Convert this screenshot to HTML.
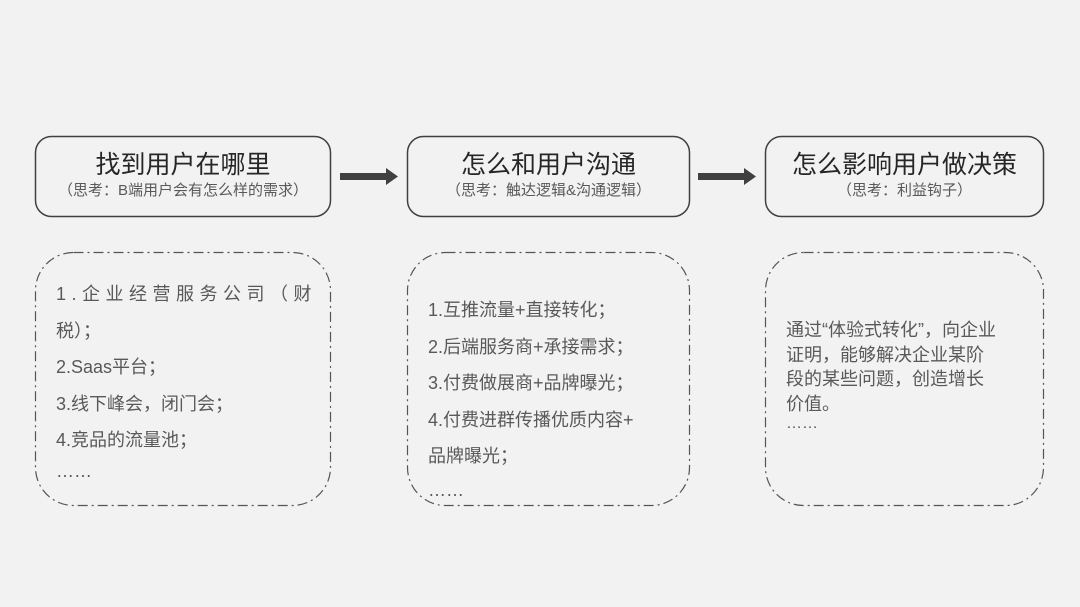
<!DOCTYPE html>
<html><head><meta charset="utf-8"><style>
body{margin:0;width:1080px;height:607px;background:#f2f2f2;overflow:hidden;position:relative;font-family:"Liberation Sans","Noto Sans CJK SC",sans-serif}
.t{position:absolute;text-align:center;color:#262626;font-size:25px;line-height:30px;white-space:nowrap}
.s{position:absolute;text-align:center;color:#595959;font-size:15px;line-height:18px;white-space:nowrap}
.l{position:absolute;color:#595959;font-size:18px;white-space:nowrap}
</style></head><body>
<svg width="1080" height="607" style="position:absolute;left:0;top:0">
<g fill="none" stroke="#404040" stroke-width="1.5">
<rect x="35.5" y="136.5" width="295" height="80" rx="16"/>
<rect x="407.5" y="136.5" width="282" height="80" rx="16"/>
<rect x="765.5" y="136.5" width="278" height="80" rx="16"/>
</g>
<g fill="none" stroke="#555" stroke-width="1.2" stroke-dasharray="10 4 2 4">
<rect x="35.5" y="252.5" width="295" height="253" rx="38"/>
<rect x="407.5" y="252.5" width="282" height="253" rx="38"/>
<rect x="765.5" y="252.5" width="278" height="253" rx="38"/>
</g>
<g fill="#404040">
<rect x="340" y="173" width="48" height="7"/><polygon points="386,168 398,176.5 386,185"/>
<rect x="698" y="173" width="48" height="7"/><polygon points="744,168 756,176.5 744,185"/>
</g>
</svg>
<div class="t" style="left:35px;width:296px;top:150px">找到用户在哪里</div>
<div class="s" style="left:35px;width:296px;top:182px">（思考：B端用户会有怎么样的需求）</div>
<div class="t" style="left:407px;width:283px;top:150px">怎么和用户沟通</div>
<div class="s" style="left:407px;width:283px;top:182px">（思考：触达逻辑&amp;沟通逻辑）</div>
<div class="t" style="left:765px;width:279px;top:150px">怎么影响用户做决策</div>
<div class="s" style="left:765px;width:279px;top:182px">（思考：利益钩子）</div>
<div class="l" style="left:56px;top:276px;line-height:36.5px">
<div style="letter-spacing:5.5px">1.企业经营服务公司（财</div>
<div>税）；</div><div>2.Saas平台；</div><div>3.线下峰会，闭门会；</div><div>4.竞品的流量池；</div>
<div style="line-height:24px">……</div></div>
<div class="l" style="left:428px;top:292px;line-height:36.5px">
<div>1.互推流量+直接转化；</div><div>2.后端服务商+承接需求；</div><div>3.付费做展商+品牌曝光；</div><div>4.付费进群传播优质内容+</div><div>品牌曝光；</div>
<div style="line-height:30px">……</div></div>
<div class="l" style="left:786px;top:318px;line-height:24.5px">
<div>通过“体验式转化”，向企业</div><div>证明，能够解决企业某阶</div><div>段的某些问题，创造增长</div><div>价值。</div>
<div style="line-height:16px;font-size:16px">……</div></div>
</body></html>
